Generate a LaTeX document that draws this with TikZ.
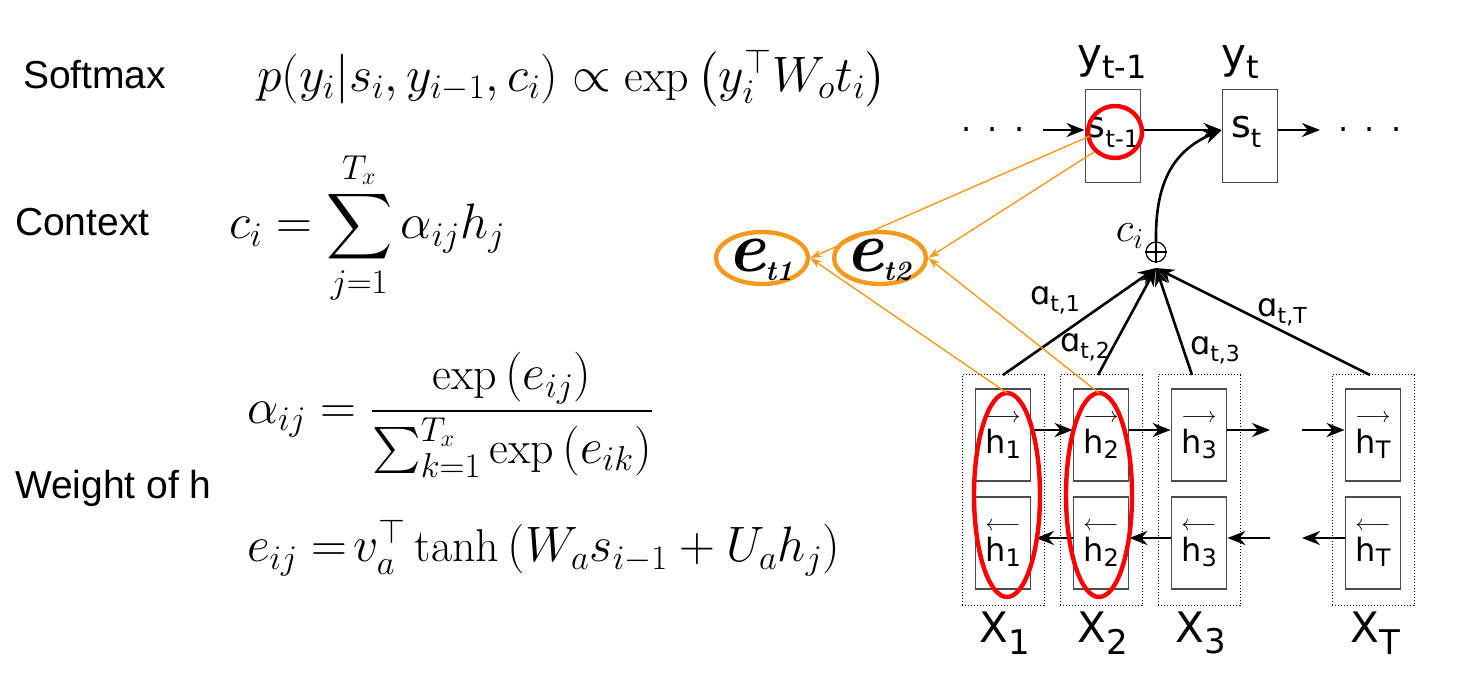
\documentclass[tikz,border=0pt]{standalone}
\usepackage{fontspec}
\usepackage{amsmath,amssymb}
\setmainfont{Latin Modern Roman}
\newfontfamily\lib{Liberation Sans}
\newfontfamily\djf{DejaVu Sans}
\usetikzlibrary{arrows.meta,shapes.geometric}
\definecolor{org}{HTML}{F39A1E}
\begin{document}
\begin{tikzpicture}[x=0.5pt,y=-0.5pt,
  lbl/.style={font=\lib\fontsize{19.5}{22}\selectfont,anchor=west},
  eqn/.style={font=\fontsize{23}{28}\selectfont,anchor=west},
  outer/.style={draw,densely dotted,line width=0.5pt},
  inner/.style={draw=black!70,line width=0.9pt},
  arr/.style={-{Stealth[length=9pt,width=7pt]},line width=1.3pt},
  org/.style={draw=org,line width=0.7pt,-{Stealth[length=6pt,width=4pt]}},
  redell/.style={draw=red,line width=2.2pt},
  djs/.style={font=\djf\fontsize{16}{18}\selectfont},
  xl/.style={font=\djf\fontsize{21}{22}\selectfont}]
\useasboundingbox (0,0) rectangle (1458,674);
% left labels
\node[lbl] (lsm) at (16,75) {Softmax};
\node[lbl] (lct) at (8,222) {Context};
\node[lbl] (lwh) at (8,488) {Weight of h};
% equations
\node[eqn] (e1) at (250,78) {$p(y_i|s_i,y_{i-1},c_i)\propto\exp\left(y_i^\top W_o t_i\right)$};
\node[eqn] (e2) at (222,228) {$c_i=\displaystyle\sum_{j=1}^{T_x}\alpha_{ij}h_j$};
\node[eqn] (e3) at (240,415) {$\alpha_{ij}=\dfrac{\exp\left(e_{ij}\right)}{\sum_{k=1}^{T_x}\exp\left(e_{ik}\right)}$};
\node[eqn] (e4) at (240,548) {$e_{ij}=\!v_a^\top\tanh\left(W_a s_{i-1}+U_a h_j\right)$};
% encoder columns
\foreach \n/\x/\s in {1/962/1,2/1060/2,3/1158/3,T/1332/T}{
  \node[outer,minimum width=41pt,minimum height=115.5pt,inner sep=0] (o\n) at (\x+41,490) {};
  \node[inner,minimum width=27.5pt,minimum height=46pt,inner sep=0,djs] (f\n) at (\x+41,435) {$\overset{\longrightarrow}{\text{\djf h\raisebox{-0.3ex}{\fontsize{12}{12}\selectfont\s}}}$};
  \node[inner,minimum width=27.5pt,minimum height=46pt,inner sep=0,djs] (b\n) at (\x+41,543) {$\overset{\longleftarrow}{\text{\djf h\raisebox{-0.3ex}{\fontsize{12}{12}\selectfont\s}}}$};
  \node[xl] (x\n) at (\x+43,633) {X\raisebox{-0.5ex}{\fontsize{17}{17}\selectfont\s}};
}
% forward arrows
\draw[arr] (f1.east|-0,430) -- (f2.west|-0,430);
\draw[arr] (f2.east|-0,430) -- (f3.west|-0,430);
\coordinate (fa) at (1270,430); \coordinate (fb) at (1302,430);
\draw[arr] (f3.east|-0,430) -- (fa);
\draw[arr] (fb) -- (fT.west|-0,430);
% backward arrows
\coordinate (b1e) at (1036,538);
\draw[arr] (b2.west|-0,538) -- (b1e);
\draw[arr] (b3.west|-0,538) -- (b2.east|-0,538);
\coordinate (ba) at (1270,538); \coordinate (bb) at (1302,538);
\draw[arr] (ba) -- (b3.east|-0,538);
\draw[arr] (bT.west|-0,538) -- (bb);
% red ellipses
\draw[redell] (1007,495) ellipse [x radius=33,y radius=102];
\draw[redell] (1099,495) ellipse [x radius=33,y radius=102];
% decoder
\node[inner,minimum width=27.5pt,minimum height=46.5pt,inner sep=0] (s1) at (1113,136) {};
\node[inner,minimum width=27.5pt,minimum height=46.5pt,inner sep=0] (s2) at (1250,136) {};
\node[font=\djf\fontsize{18}{20}\selectfont] (s1t) at (1113,132) {s\raisebox{-0.5ex}{\fontsize{12}{12}\selectfont t-1}};
\node[font=\djf\fontsize{19}{20}\selectfont] (s2t) at (1246,132) {s\raisebox{-0.5ex}{\fontsize{13}{13}\selectfont t}};
\node[xl] (y1) at (1112,62) {y\raisebox{-0.4ex}{\fontsize{16}{16}\selectfont t-1}};
\node[xl] (y2) at (1240,62) {y\raisebox{-0.4ex}{\fontsize{16}{16}\selectfont t}};
\node[djs] (dl) at (993,130) {.\hspace{8pt}.\hspace{8pt}.};
\node[djs] (dr) at (1370,130) {.\hspace{8pt}.\hspace{8pt}.};
\coordinate (ain) at (1043,130); \coordinate (aout) at (1320,130);
\draw[arr] (ain) -- (s1.west|-0,130);
\draw[arr] (s1.east|-0,130) -- (s2.west|-0,130);
\draw[arr] (s2.east|-0,130) -- (aout);
\draw[redell] (1115,132) ellipse [x radius=27,y radius=26];
% context
\node[draw,circle,minimum size=10pt,inner sep=0,line width=0.6pt] (plus) at (1156,252) {};
\draw[line width=0.6pt] (plus.north) -- (plus.south) (plus.west) -- (plus.east);
\node[font=\fontsize{22}{24}\selectfont] (ci) at (1130,236) {$c_i$};
\draw[arr] (plus.north) .. controls (1155,180) and (1175,150) .. (s2.west|-0,130);
\coordinate (pb) at (1156,268);
\foreach \n/\x in {1/1003,2/1098,3/1192,T/1370}{
  \coordinate (t\n) at (\x,375);
  \draw[arr] (t\n) -- (pb);
}
\node[djs] (a1) at (1055,300) {ɑ\raisebox{-0.4ex}{\fontsize{11}{11}\selectfont t,1}};
\node[djs] (a2) at (1085,347) {ɑ\raisebox{-0.4ex}{\fontsize{11}{11}\selectfont t,2}};
\node[djs] (a3) at (1215,350) {ɑ\raisebox{-0.4ex}{\fontsize{11}{11}\selectfont t,3}};
\node[djs] (aT) at (1282,312) {ɑ\raisebox{-0.4ex}{\fontsize{11}{11}\selectfont t,T}};
% energies
\node[draw=org,line width=2.2pt,ellipse,minimum width=46pt,minimum height=26pt,inner sep=0] (et1) at (762,258) {};
\node[draw=org,line width=2.2pt,ellipse,minimum width=46pt,minimum height=26pt,inner sep=0] (et2) at (880,258) {};
\node[font=\fontsize{36}{36}\selectfont] (et1t) at (760,260) {\bfseries\itshape e\raisebox{-0.3ex}{\fontsize{14}{14}\selectfont t1}};
\node[font=\fontsize{36}{36}\selectfont] (et2t) at (878,260) {\bfseries\itshape e\raisebox{-0.3ex}{\fontsize{14}{14}\selectfont t2}};
\coordinate (o1) at (1090,136); \coordinate (o2) at (1094,152);
\coordinate (h1t) at (1007,393); \coordinate (h2t) at (1099,393);
\draw[org] (o1) -- (et1.east);
\draw[org] (o2) -- (et2.east);
\draw[org] (h1t) -- (et1.east);
\draw[org] (h2t) -- (et2.east);
\end{tikzpicture}
\end{document}
